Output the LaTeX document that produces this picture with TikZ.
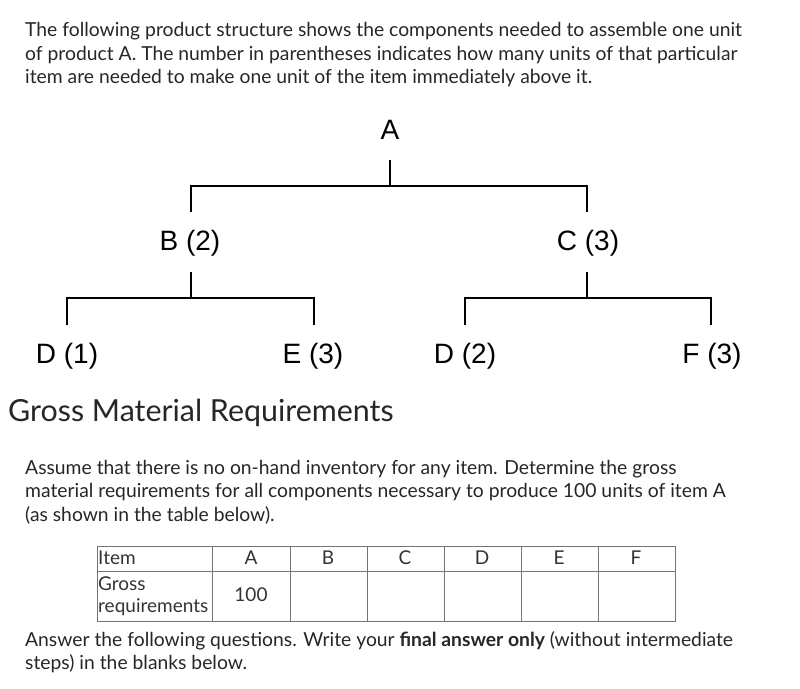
\documentclass[tikz,border=0pt]{standalone}
\usepackage{fontspec}
\setmainfont{Lato}
\newfontfamily\arialf{Liberation Sans}
\begin{document}
\begin{tikzpicture}[x=1pt,y=-1pt,
  txt/.style={anchor=west,inner sep=0pt,font=\fontsize{19.3}{22}\selectfont,text=black!85},
  lbl/.style={inner sep=0pt,font=\arialf\fontsize{28}{32}\selectfont},
  tl/.style={line width=1.6pt},
  cell/.style={inner sep=0pt,font=\fontsize{19}{22}\selectfont,text=black!80}]
\useasboundingbox (0,0) rectangle (800,688);
\node[txt] (p1) at (25,31) {The following product structure shows the components needed to assemble one unit};
\node[txt] (p2) at (25,55) {of product A. The number in parentheses indicates how many units of that particular};
\node[txt] (p3) at (25,78) {item are needed to make one unit of the item immediately above it.};
% tree
\node[lbl] (A) at (390,130) {A};
\node[lbl] (B) at (190,243) {B (2)};
\node[lbl] (C) at (588,243) {C (3)};
\node[lbl] (D1) at (67,356) {D (1)};
\node[lbl] (E) at (313,356) {E (3)};
\node[lbl] (D2) at (465,356) {D (2)};
\node[lbl] (F) at (712,356) {F (3)};
\draw[tl] (390,160) -- (390,186);
\draw[tl] (191,212) -- (191,186) -- (587,186) -- (587,212);
\draw[tl] (191,272) -- (191,298);
\draw[tl] (67,325) -- (67,298) -- (314,298) -- (314,325);
\draw[tl] (587,272) -- (587,298);
\draw[tl] (465,325) -- (465,298) -- (711,298) -- (711,325);
\node[anchor=west,inner sep=0pt,font=\fontsize{30.4}{34}\selectfont,text=black!85] (h) at (8,413) {Gross Material Requirements};
\node[txt] (q1) at (25,469) {Assume that there is no on-hand inventory for any item. Determine the gross};
\node[txt] (q2) at (25,492) {material requirements for all components necessary to produce 100 units of item A};
\node[txt] (q3) at (25,515) {(as shown in the table below).};
% table
\draw[black!55,line width=0.8pt] (97,546) rectangle (675,621) (97,571) -- (675,571);
\foreach \x in {212,290,367,444,521,598} \draw[black!55,line width=0.8pt] (\x,546) -- (\x,621);
\node[cell,anchor=west] (ti) at (98,558) {Item};
\node[cell,anchor=west] (tg) at (98,584) {Gross};
\node[cell,anchor=west] (tr) at (98,607) {requirements};
\foreach \x/\c in {251/A,328/B,405/C,482/D,559/E,636/F} \node[cell] (c\c) at (\x,558) {\c};
\node[cell] (v) at (251,595) {100};
\node[txt] (r1) at (25,641) {Answer the following questions. Write your \textbf{final answer only} (without intermediate};
\node[txt] (r2) at (25,664) {steps) in the blanks below.};
\end{tikzpicture}
\end{document}
